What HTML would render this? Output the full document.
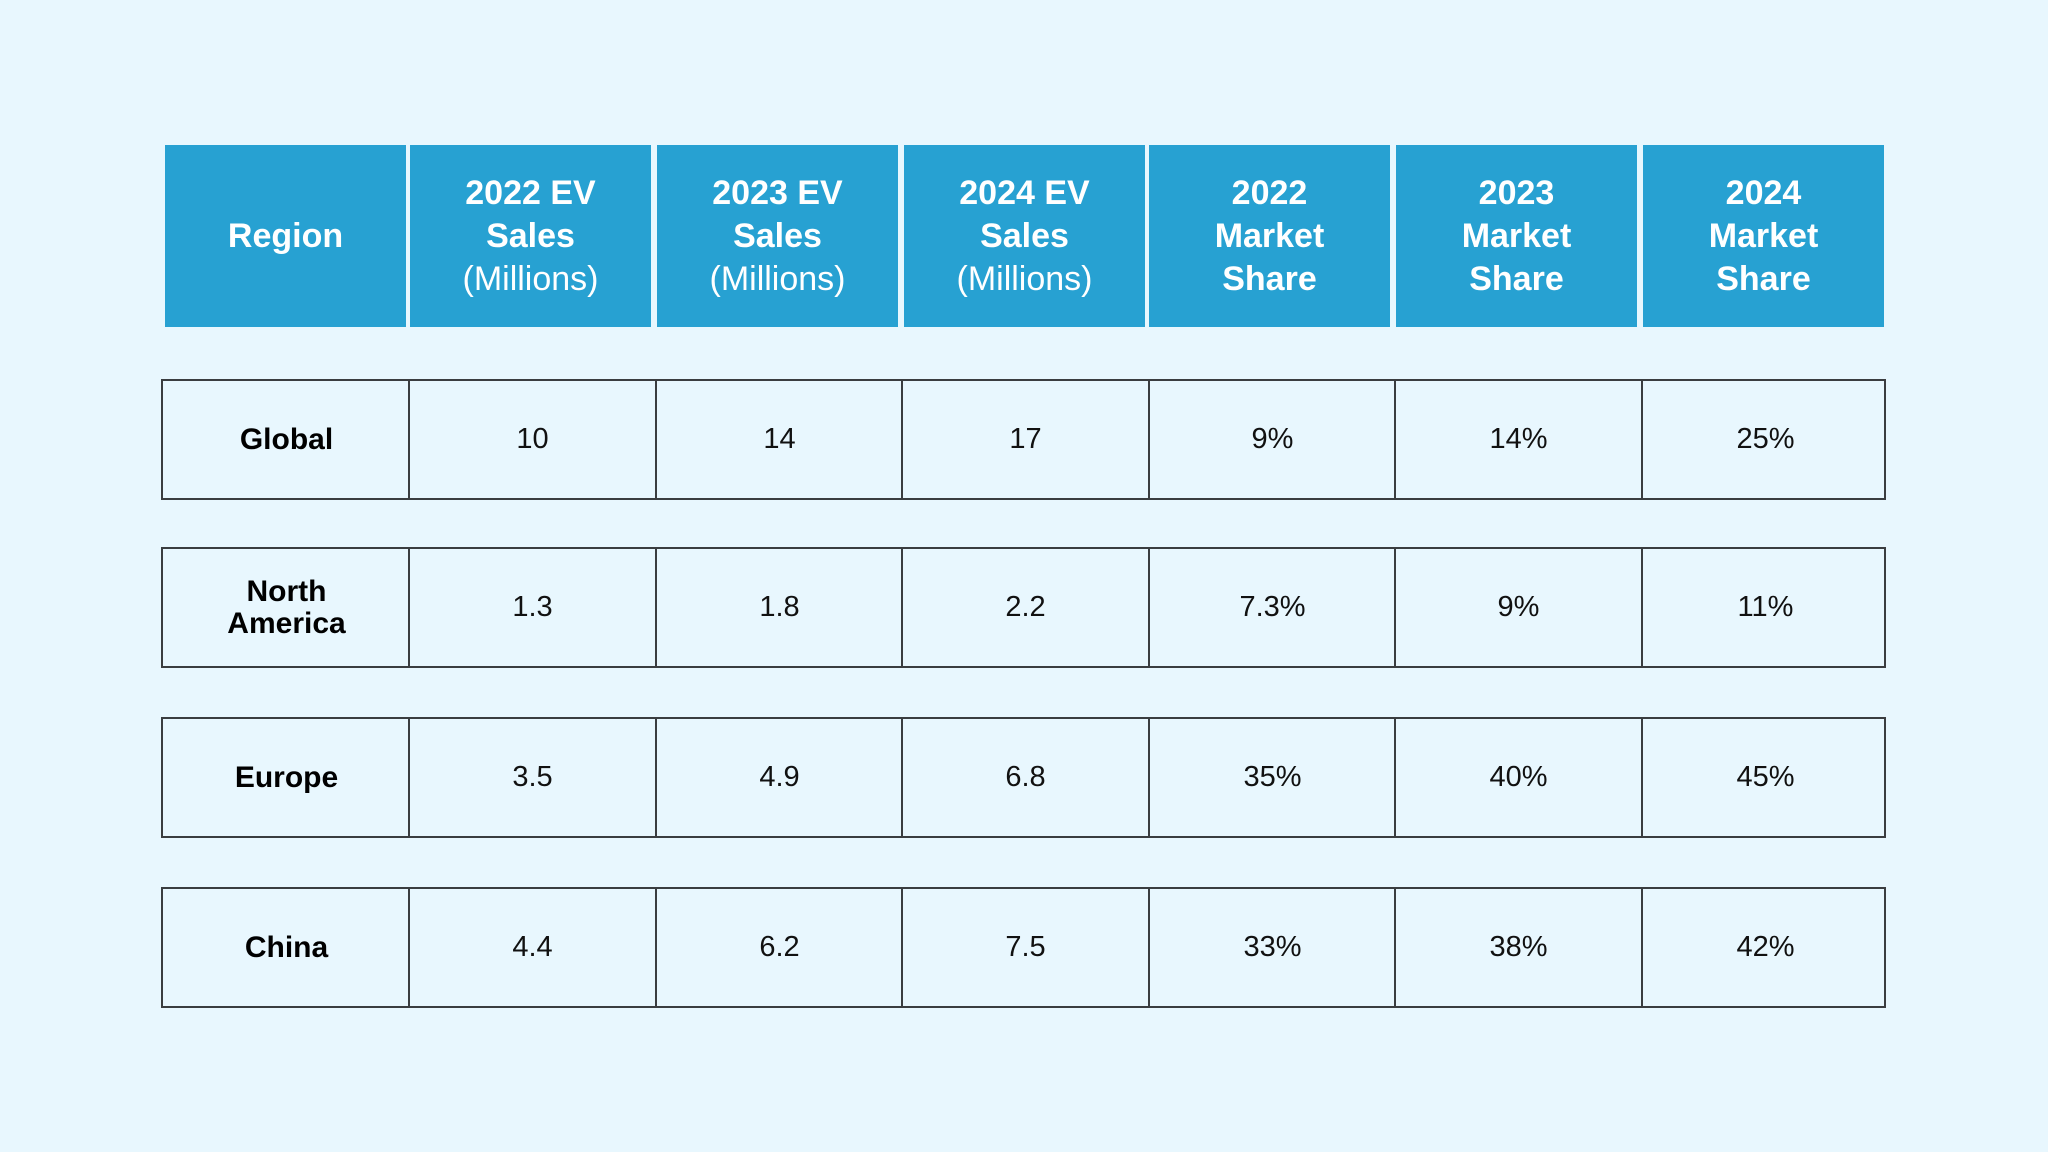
<!DOCTYPE html>
<html><head><meta charset="utf-8"><style>
body{margin:0;width:2048px;height:1152px;background:#e8f7fe;position:relative;overflow:hidden;font-family:"Liberation Sans",sans-serif;}
.h{position:absolute;top:145px;height:182px;width:241px;background:#27a1d2;color:#fff;display:flex;align-items:center;justify-content:center;text-align:center;font-weight:bold;font-size:34px;line-height:43px;}
.h span{font-weight:normal}
.r{position:absolute;left:161px;width:1725px;height:121px;border:2px solid #3a3d40;box-sizing:border-box;}
.c{position:absolute;top:0;height:100%;width:247px;display:flex;align-items:center;justify-content:center;text-align:center;font-size:29px;color:#111;}
.c.f{font-weight:bold;font-size:30px;line-height:32px;color:#000}
.v{position:absolute;top:0;height:100%;width:2px;background:#3a3d40}
</style></head><body>
<div class="h" style="left:165px"><div>Region</div></div>
<div class="h" style="left:410px"><div>2022 EV<br>Sales<br><span>(Millions)</span></div></div>
<div class="h" style="left:657px"><div>2023 EV<br>Sales<br><span>(Millions)</span></div></div>
<div class="h" style="left:904px"><div>2024 EV<br>Sales<br><span>(Millions)</span></div></div>
<div class="h" style="left:1149px"><div>2022<br>Market<br>Share</div></div>
<div class="h" style="left:1396px"><div>2023<br>Market<br>Share</div></div>
<div class="h" style="left:1643px"><div>2024<br>Market<br>Share</div></div>

<div class="r" style="top:379px">
<div class="c f" style="left:0">Global</div><div class="c" style="left:246px">10</div><div class="c" style="left:493px">14</div><div class="c" style="left:739px">17</div><div class="c" style="left:986px">9%</div><div class="c" style="left:1232px">14%</div><div class="c" style="left:1479px">25%</div>
<div class="v" style="left:245px"></div><div class="v" style="left:492px"></div><div class="v" style="left:738px"></div><div class="v" style="left:985px"></div><div class="v" style="left:1231px"></div><div class="v" style="left:1478px"></div>
</div>
<div class="r" style="top:547px">
<div class="c f" style="left:0"><div>North<br>America</div></div><div class="c" style="left:246px">1.3</div><div class="c" style="left:493px">1.8</div><div class="c" style="left:739px">2.2</div><div class="c" style="left:986px">7.3%</div><div class="c" style="left:1232px">9%</div><div class="c" style="left:1479px">11%</div>
<div class="v" style="left:245px"></div><div class="v" style="left:492px"></div><div class="v" style="left:738px"></div><div class="v" style="left:985px"></div><div class="v" style="left:1231px"></div><div class="v" style="left:1478px"></div>
</div>
<div class="r" style="top:717px">
<div class="c f" style="left:0">Europe</div><div class="c" style="left:246px">3.5</div><div class="c" style="left:493px">4.9</div><div class="c" style="left:739px">6.8</div><div class="c" style="left:986px">35%</div><div class="c" style="left:1232px">40%</div><div class="c" style="left:1479px">45%</div>
<div class="v" style="left:245px"></div><div class="v" style="left:492px"></div><div class="v" style="left:738px"></div><div class="v" style="left:985px"></div><div class="v" style="left:1231px"></div><div class="v" style="left:1478px"></div>
</div>
<div class="r" style="top:887px">
<div class="c f" style="left:0">China</div><div class="c" style="left:246px">4.4</div><div class="c" style="left:493px">6.2</div><div class="c" style="left:739px">7.5</div><div class="c" style="left:986px">33%</div><div class="c" style="left:1232px">38%</div><div class="c" style="left:1479px">42%</div>
<div class="v" style="left:245px"></div><div class="v" style="left:492px"></div><div class="v" style="left:738px"></div><div class="v" style="left:985px"></div><div class="v" style="left:1231px"></div><div class="v" style="left:1478px"></div>
</div>
</body></html>
